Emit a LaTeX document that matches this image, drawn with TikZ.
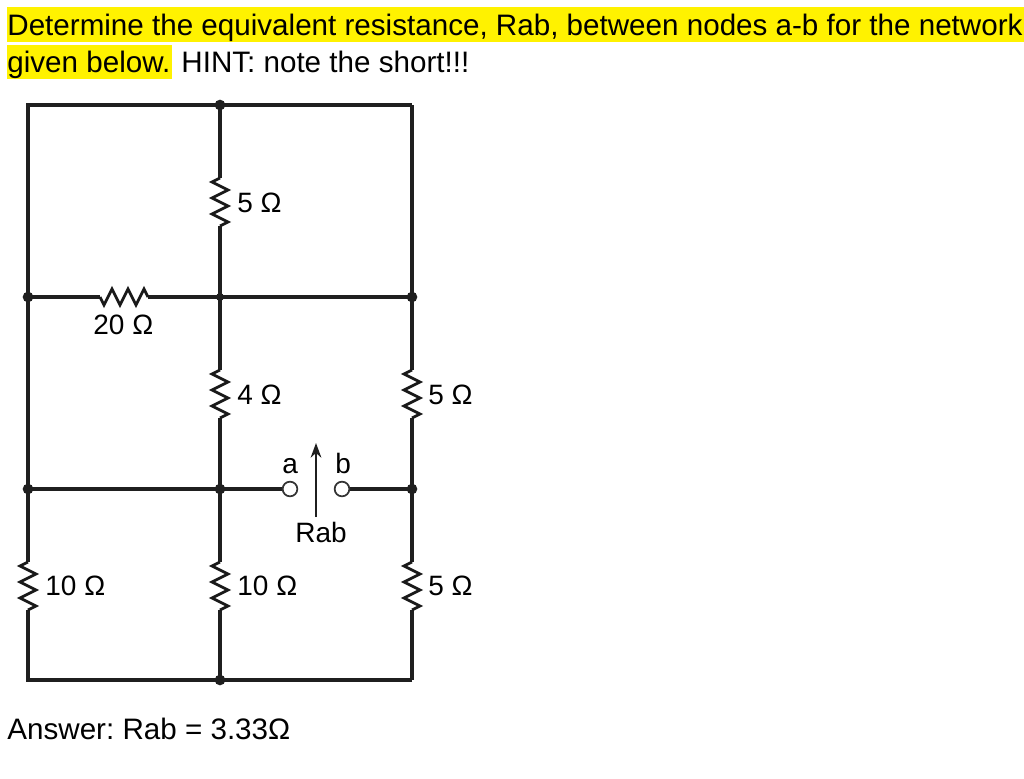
\documentclass[tikz,border=0pt]{standalone}
\usepackage{fontspec}
\setmainfont{Liberation Sans}
\usetikzlibrary{arrows.meta,decorations.pathmorphing}
\begin{document}
\frenchspacing
\begin{tikzpicture}[x=0.75pt,y=-0.75pt,line join=miter,semithick]
\tikzstyle{every node}=[text=black,inner sep=0pt]
\tikzstyle{wire}=[draw=black!88,line width=3.4pt]
\tikzstyle{thinwire}=[draw=black!88,line width=2.8pt]
\tikzstyle{res}=[draw=black!90,line width=2.1pt,decorate,decoration={zigzag,segment length=12pt,amplitude=6pt,mirror}]
\tikzstyle{dot}=[circle,fill=black!88,minimum size=8pt]
\tikzstyle{term}=[circle,draw=black!80,fill=white,line width=1.3pt,minimum size=11pt]
\tikzstyle{big}=[font=\fontsize{22.2pt}{26pt}\selectfont,anchor=base west]
\tikzstyle{lab}=[font=\fontsize{21pt}{24pt}\selectfont,anchor=base west]
\useasboundingbox (0,0) rectangle (1024,778);
\fill[yellow] (7,7) rectangle (1024,41.5);
\fill[yellow] (7,45) rectangle (172,79);
\node[big] (line1) at (7,35) {Determine the equivalent resistance, Rab, between nodes a-b for the network};
\node[big] (line2) at (7,72) {given below.};
\node[big] (hint) at (181,72) {HINT: note the short!!!};
\node[big] (answer) at (7,739) {Answer: Rab = 3.33Ω};
% junctions
\node[dot] (t) at (220,105) {};
\node[dot,minimum size=6pt] (m) at (220,297) {};
\node[dot] (l) at (28,297) {};
\node[dot] (r) at (412,297) {};
\node[dot] (ml) at (28,489) {};
\node[dot] (mm) at (220,489) {};
\node[dot] (mr) at (412,489) {};
\node[dot] (bm) at (220,680) {};
\coordinate (tl) at (28,105);
\coordinate (tr) at (412,105);
\coordinate (bl) at (28,680);
\coordinate (br) at (412,680);
% resistor ends
\coordinate (r1a) at (220,178); \coordinate (r1b) at (220,226);
\coordinate (r2a) at (100,297); \coordinate (r2b) at (148,297);
\coordinate (r3a) at (220,370); \coordinate (r3b) at (220,418);
\coordinate (r4a) at (412,370); \coordinate (r4b) at (412,418);
\coordinate (r5a) at (28,562); \coordinate (r5b) at (28,610);
\coordinate (r6a) at (220,562); \coordinate (r6b) at (220,610);
\coordinate (r7a) at (412,562); \coordinate (r7b) at (412,610);
% outer wires
\draw[wire] (r5a) -- (ml.center) -- (l.center) -- (tl) -- (tr);
\draw[thinwire] (tr) -- (r.center) -- (r4a);
\draw[thinwire] (r4b) -- (mr.center) -- (r7a);
\draw[thinwire] (r7b) -- (br);
\draw[wire] (br) -- (bl) -- (r5b);
% middle wires
\draw[wire] (t.center) -- (r1a);
\draw[thinwire] (r1b) -- (m.center) -- (r3a);
\draw[thinwire] (r3b) -- (mm.center) -- (r6a);
\draw[thinwire] (r6b) -- (bm.center);
\draw[wire] (l.center) -- (r2a);
\draw[wire] (r2b) -- (m.center);
\draw[wire] (m.center) -- (r.center);
\draw[wire] (ml.center) -- (mm.center);
% resistors
\draw[res] (r1a) -- (r1b);
\draw[res] (r2a) -- (r2b);
\draw[res] (r3a) -- (r3b);
\draw[res] (r4a) -- (r4b);
\draw[res] (r5a) -- (r5b);
\draw[res] (r6a) -- (r6b);
\draw[res] (r7a) -- (r7b);
% open terminals
\draw[wire] (mm.center) -- (290,489) coordinate (ae);
\draw[wire] (342,489) coordinate (be) -- (mr.center);
\node[term] (a) at (ae) {};
\node[term] (b) at (be) {};
\coordinate (up) at (316,443);
\coordinate (dn) at (316,517);
\draw[-{Stealth[length=11pt,width=8pt]},draw=black!88,fill=black!88,line width=1.7pt] (dn) -- (up);
% labels
\node[lab] (l1) at (237,212) {5 Ω};
\node[lab] (l2) at (93,334) {20 Ω};
\node[lab] (l3) at (237,404) {4 Ω};
\node[lab] (l4) at (428,404) {5 Ω};
\node[lab] (l5) at (45,595) {10 Ω};
\node[lab] (l6) at (237,595) {10 Ω};
\node[lab] (l7) at (428,595) {5 Ω};
\node[lab] (la) at (282,473) {a};
\node[lab] (lb) at (335,473) {b};
\node[lab] (lr) at (295,542) {Rab};
\end{tikzpicture}
\end{document}
